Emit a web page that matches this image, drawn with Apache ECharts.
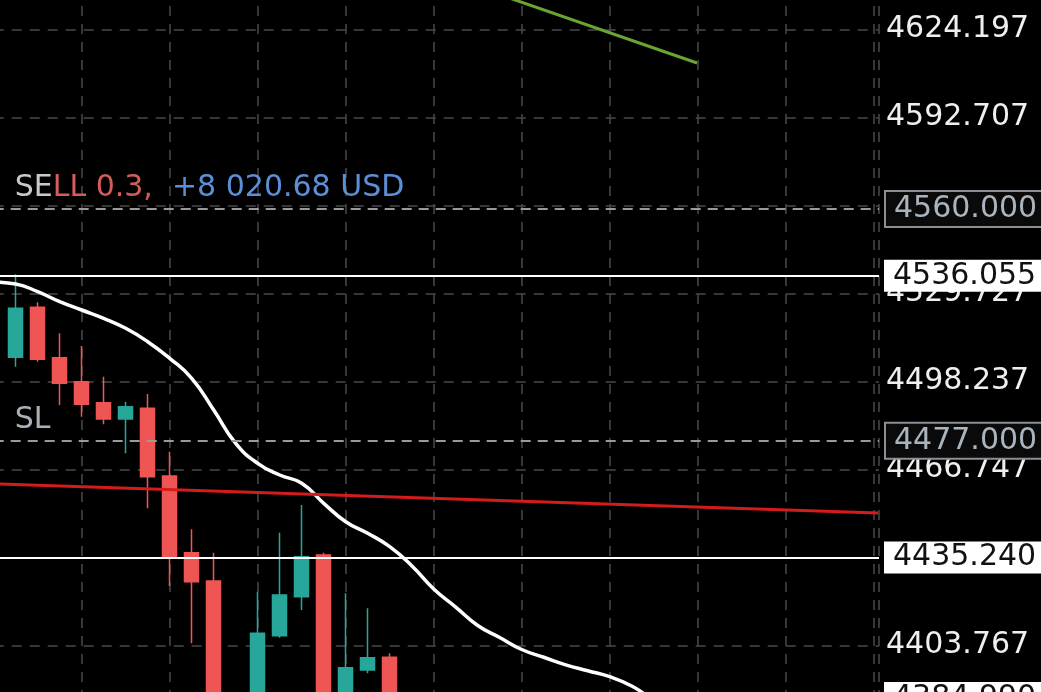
<!DOCTYPE html>
<html>
<head>
<meta charset="utf-8">
<script src="https://cdn.jsdelivr.net/npm/echarts@6.0.0/dist/echarts.min.js"></script>
<style>
html, body { margin: 0; padding: 0; background: #000; }
#chart { width: 1041px; height: 692px; }
</style>
</head>
<body>
<div id="chart"></div>
<script>
// bar index on the time axis (one step = one candle)
var candleIdx = [1, 2, 3, 4, 5, 6, 7, 8, 9, 10, 11, 12, 13, 14, 15, 16, 17, 18];
var openVals  = [4506.9, 4524.79, 4506.75, 4498.17, 4490.65, 4484.82, 4488.65, 4464.42, 4436.97, 4426.85, 4379, 4374, 4407.27, 4421.23, 4436.15, 4381, 4395.0, 4399.54];
var closeVals = [4524.43, 4506.18, 4497.59, 4490.08, 4484.82, 4489.22, 4464.17, 4435.6, 4426.6, 4378, 4374, 4408.13, 4421.83, 4435.54, 4380, 4395.82, 4399.4, 4382];
var lowVals   = [4503.53, 4505.32, 4489.83, 4485.64, 4482.92, 4472.54, 4452.86, 4425.06, 4404.55, 4372, 4369, 4370, 4406.5, 4416.47, 4376, 4378, 4393.82, 4378];
var highVals  = [4536.6, 4526.58, 4515.48, 4510.94, 4499.95, 4491.01, 4493.76, 4473.11, 4445.35, 4436.97, 4385, 4423.02, 4444.13, 4454.04, 4436.97, 4422.44, 4417.08, 4400.97];

// moving average
var maIdx = [0, 1, 2, 3, 4, 5, 6, 7, 8, 9, 10, 11, 12, 13, 14, 15, 16, 17, 18, 19, 20, 21, 22, 23, 24, 25, 26, 27, 28, 29, 30, 31];
var maVals = [4533.84, 4533.13, 4530.37, 4526.79, 4523.82, 4520.85, 4517.27, 4512.48, 4506.54, 4499.38,
  4488.04, 4476.12, 4468.96, 4464.78, 4461.81, 4454.65, 4448.07, 4443.92, 4439.12, 4432.32,
  4423.98, 4417.51, 4410.92, 4406.63, 4402.33, 4399.57, 4396.86, 4394.71, 4392.6, 4389.27, 4384.26, 4380.0];

// trend lines [idx, price]
var redTrend = [[0, 4461.6], [40.2, 4451.2]];
var greenTrend = [[22, 4639.4], [31.97, 4612.2]];

// horizontal price levels
var orderLevels = [4560, 4477];                 // dashed (order / stop loss)
var priceLevels = [4536.055, 4435.24, 4384.99]; // solid white
var orderTexts = ['{g|SE}{r|LL 0.3,}  {b|+8 020.68 USD}', '{s|SL}'];

// y axis ticks
var yMin = 4372.277;
var yStep = 31.49;
var yMax = 4645.49;

var font = 'DejaVu Sans';

var chart = echarts.init(document.getElementById('chart'));

var candleData = candleIdx.map(function (x, i) {
  return [x, openVals[i], closeVals[i], lowVals[i], highVals[i]];
});
var maData = maIdx.map(function (x, i) { return [x, maVals[i]]; });

var grayBox = {
  show: true,
  position: 'end',
  distance: 7,
  fontFamily: font,
  fontSize: 30,
  lineHeight: 30,
  color: '#aab4be',
  backgroundColor: '#0a0a0a',
  borderColor: '#8c9096',
  borderWidth: 2,
  padding: [2, 8, 2, 8],
  formatter: function (p) { return p.value.toFixed(3); }
};
var whiteBox = {
  show: true,
  position: 'end',
  distance: 5,
  fontFamily: font,
  fontSize: 30,
  lineHeight: 30,
  color: '#111',
  backgroundColor: '#fff',
  padding: [1, 9, 1, 9],
  formatter: function (p) { return p.value.toFixed(3); }
};

var lines = [];
orderLevels.forEach(function (v, i) {
  lines.push({
    yAxis: v,
    lineStyle: { color: '#9a9a9a', width: 2, type: [10, 7] },
    label: grayBox
  });
  lines.push({
    yAxis: v,
    lineStyle: { color: 'rgba(0,0,0,0)', width: 0 },
    label: {
      show: true,
      position: 'insideStartTop',
      distance: [21, 6],
      fontFamily: font,
      fontSize: 30,
      formatter: orderTexts[i],
      rich: {
        g: { color: '#c9c9c9', fontFamily: font, fontSize: 30 },
        r: { color: '#d45c5a', fontFamily: font, fontSize: 30 },
        b: { color: '#5d8fd8', fontFamily: font, fontSize: 30 },
        s: { color: '#a9b1b9', fontFamily: font, fontSize: 30 }
      }
    }
  });
});
priceLevels.forEach(function (v) {
  lines.push({
    yAxis: v,
    lineStyle: { color: '#ffffff', width: 2, type: 'solid' },
    label: whiteBox
  });
});
lines.push([
  { coord: redTrend[0], lineStyle: { color: '#d41c1c', width: 3, type: 'solid' }, label: { show: false } },
  { coord: redTrend[1] }
]);
lines.push([
  { coord: greenTrend[0], lineStyle: { color: '#6aa531', width: 3, type: 'solid' }, label: { show: false } },
  { coord: greenTrend[1] }
]);

var option = {
  backgroundColor: '#000',
  animation: false,
  grid: {
    left: -6.3,
    right: 162,
    top: -30,
    bottom: -41.5,
    containLabel: false,
    outerBoundsMode: 'none'
  },
  xAxis: {
    type: 'value',
    min: 0,
    max: 40.24,
    interval: 4,
    axisLine: { show: false },
    axisTick: { show: false },
    axisLabel: { show: false },
    splitLine: {
      show: true,
      lineStyle: { color: '#4a4a4a', width: 1.5, type: [10, 8] }
    }
  },
  yAxis: {
    type: 'value',
    position: 'right',
    min: yMin,
    max: yMax,
    interval: yStep,
    scale: true,
    axisLine: { show: true, lineStyle: { color: '#5f646b', width: 2 } },
    axisTick: { show: true, inside: true, length: 8, lineStyle: { color: '#6c6c6c', width: 1.5 } },
    axisLabel: {
      show: true,
      margin: 7,
      color: '#efefef',
      fontFamily: font,
      fontSize: 30,
      showMaxLabel: false,
      formatter: function (v) { return v.toFixed(3); }
    },
    splitLine: {
      show: true,
      lineStyle: { color: '#4a4a4a', width: 1.5, type: [10, 8] }
    }
  },
  series: [
    {
      type: 'candlestick',
      data: candleData,
      barWidth: 14,
      clip: true,
      itemStyle: {
        color: '#27a69a',
        color0: '#ef5552',
        borderColor: '#27a69a',
        borderColor0: '#ef5552',
        borderWidth: 1.5
      },
      markLine: {
        silent: true,
        precision: 3,
        symbol: ['none', 'none'],
        data: lines
      }
    },
    {
      type: 'line',
      data: maData,
      smooth: 0.5,
      symbol: 'none',
      clip: true,
      lineStyle: { color: '#ffffff', width: 3.5 }
    }
  ]
};

chart.setOption(option);
</script>
</body>
</html>
